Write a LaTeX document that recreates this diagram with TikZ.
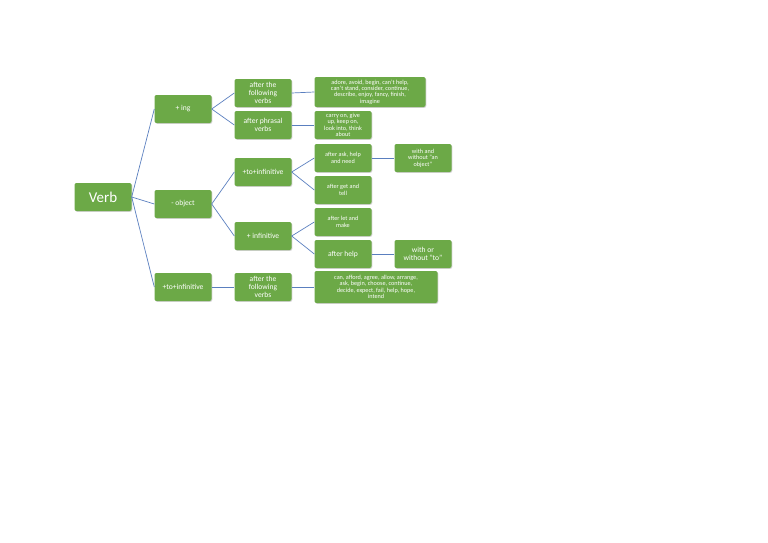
\documentclass[tikz,border=0pt]{standalone}
\usepackage{fontspec}
\setmainfont{Carlito}
\usetikzlibrary{shadows}

\tikzset{
  box/.style={draw=none, fill=boxgreen, rounded corners=2pt, text=white,
    minimum width=57pt, minimum height=28pt, inner sep=1pt, align=center,
    font=\fontsize{7.6}{7.8}\selectfont, drop shadow={opacity=0.35, shadow xshift=0.8pt, shadow yshift=-0.8pt}},
  tiny/.style={box, font=\fontsize{6.2}{6.4}\selectfont},
  link/.style={draw=linkblue, line width=0.7pt}
}
\definecolor{boxgreen}{HTML}{6CA947}
\definecolor{linkblue}{HTML}{5A7FBF}

\begin{document}
\begin{tikzpicture}[x=1pt, y=-1pt]
  \useasboundingbox (0,0) rectangle (768,543);

  \node[box, font=\fontsize{15}{15}\selectfont] (verb) at (103,197) {Verb};

  \node[box] (ing) at (183,109) {+ ing};
  \node[box] (obj) at (183,204) {- object};
  \node[box] (toinf) at (183,287) {+to+infinitive};

  \node[box] (ingverbs) at (263,93) {after the\\following\\verbs};
  \node[box] (phrasal) at (263,125) {after phrasal\\verbs};
  \node[box] (objto) at (263,172) {+to+infinitive};
  \node[box] (objinf) at (263,236) {+ infinitive};
  \node[box] (toverbs) at (263,287) {after the\\following\\verbs};

  \node[tiny, minimum width=111pt, minimum height=30pt] (inglist) at (370,92)
    {adore, avoid, begin, can't help,\\can't stand, consider, continue,\\describe, enjoy, fancy, finish,\\imagine};
  \node[tiny] (phrlist) at (343,125) {carry on, give\\up, keep on,\\look into, think\\about};
  \node[tiny] (ask) at (343,158) {after ask, help\\and need};
  \node[tiny] (withobj) at (423,158) {with and\\without "an\\object"};
  \node[tiny] (get) at (343,190) {after get and\\tell};
  \node[tiny] (let) at (343,222) {after let and\\make};
  \node[box] (help) at (343,254) {after help};
  \node[box] (withto) at (423,254) {with or\\without "to"};
  \node[tiny, minimum width=123pt, minimum height=32pt] (tolist) at (376,287)
    {can, afford, agree, allow, arrange,\\ask, begin, choose, continue,\\decide, expect, fail, help, hope,\\intend};

  % connectors
  \foreach \a/\b in {verb/ing, verb/obj, verb/toinf,
                     ing/ingverbs, ing/phrasal, obj/objto, obj/objinf, toinf/toverbs,
                     ingverbs/inglist, phrasal/phrlist, objto/ask, objto/get,
                     objinf/let, objinf/help, ask/withobj, help/withto, toverbs/tolist}
    \draw[link] (\a.east) -- (\b.west);
\end{tikzpicture}
\end{document}
